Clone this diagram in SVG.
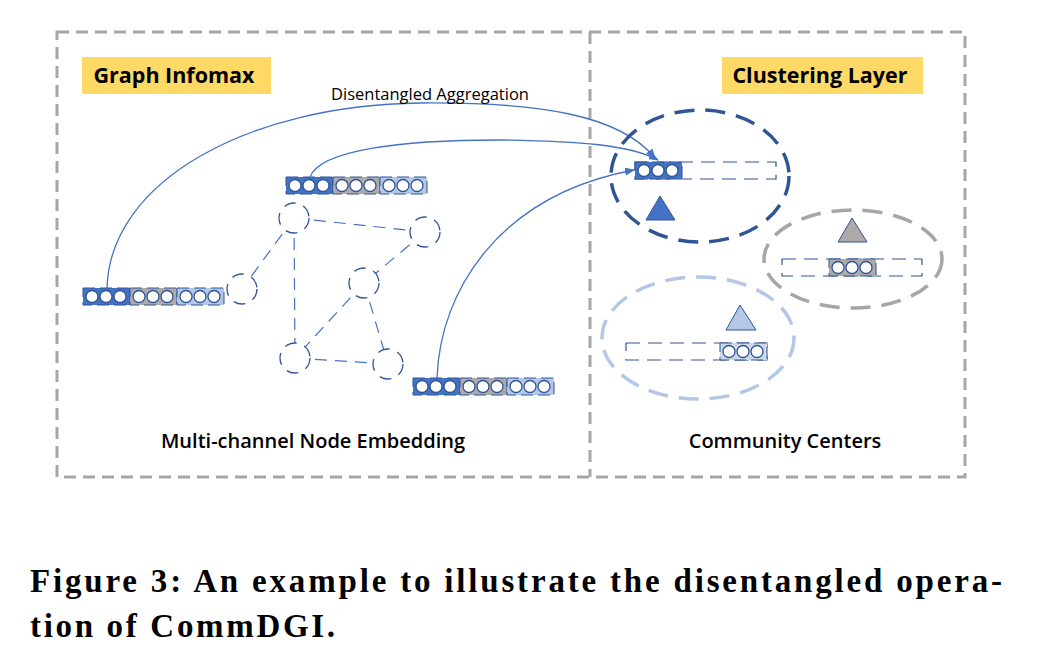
<svg xmlns="http://www.w3.org/2000/svg" width="1055" height="670" viewBox="0 0 1055 670">
<style>
.lbl{font-family:"Open Sans","Liberation Sans",sans-serif;font-weight:bold;font-size:21.5px;fill:#000}
.sub{font-family:"Open Sans","Liberation Sans",sans-serif;font-weight:600;font-size:20px;fill:#000}
.cap{font-family:"Liberation Serif",serif;font-weight:bold;font-size:33px;fill:#000}
.gn{fill:#fff;stroke:#2f5597;stroke-width:1.3;stroke-dasharray:12 8}
.ge{stroke:#4472c4;stroke-width:1.2;stroke-dasharray:12 8;fill:none}
.seg{stroke:#2f5597;stroke-width:1;stroke-dasharray:12 5}
.dot{fill:#fff;stroke:#2f5597;stroke-width:1.3}
.c{fill:none;stroke:#4472c4;stroke-width:1.3}
.emp{fill:none;stroke:#2f5597;stroke-width:1.2;stroke-dasharray:14 8}
</style>
<defs>
<marker id="ar" markerWidth="10" markerHeight="8" refX="9" refY="4" orient="auto" markerUnits="userSpaceOnUse"><path d="M0,0 L10,4 L0,8 z" fill="#4472c4"/></marker>
<g id="trip"><circle class="dot" cx="9" cy="8.5" r="6"/><circle class="dot" cx="23" cy="8.5" r="6"/><circle class="dot" cx="37" cy="8.5" r="6"/></g>
<g id="bar">
<rect width="47" height="17" fill="#4472c4" class="seg"/><rect x="47" width="47" height="17" fill="#aeaaaa" class="seg"/><rect x="94" width="47" height="17" fill="#b4c7e7" class="seg"/>
<use href="#trip"/><use href="#trip" x="47"/><use href="#trip" x="94"/>
</g>
</defs>
<rect width="1055" height="670" fill="#fff"/>
<g id="frame" fill="none" stroke="#a6a6a6" stroke-width="3" stroke-dasharray="12 7">
<rect x="57" y="32" width="908" height="445"/>
<line x1="590" y1="32" x2="590" y2="477"/>
</g>
<g id="title-left"><rect x="82" y="57" width="189" height="37" fill="#ffd966"/><text class="lbl" x="174" y="83" text-anchor="middle">Graph Infomax</text></g>
<g id="title-right"><rect x="722" y="57" width="201" height="37" fill="#ffd966"/><text class="lbl" x="820" y="83" text-anchor="middle">Clustering Layer</text></g>
<g id="graph-edges">
<line class="ge" x1="294" y1="218" x2="425" y2="232"/>
<line class="ge" x1="294" y1="218" x2="242" y2="289"/>
<line class="ge" x1="294" y1="218" x2="295" y2="358"/>
<line class="ge" x1="425" y1="232" x2="364" y2="283"/>
<line class="ge" x1="364" y1="283" x2="295" y2="358"/>
<line class="ge" x1="364" y1="283" x2="388" y2="364"/>
<line class="ge" x1="295" y1="358" x2="388" y2="364"/>
</g>
<g id="graph-nodes">
<circle class="gn" cx="294" cy="218" r="15"/>
<circle class="gn" cx="425" cy="232" r="15"/>
<circle class="gn" cx="242" cy="289" r="15"/>
<circle class="gn" cx="364" cy="283" r="15"/>
<circle class="gn" cx="295" cy="358" r="15"/>
<circle class="gn" cx="388" cy="364" r="15"/>
</g>
<g id="emb-left"><use href="#bar" x="83" y="288"/></g>
<g id="emb-top"><use href="#bar" x="286" y="177"/></g>
<g id="emb-bottom"><use href="#bar" x="413" y="378"/></g>
<g id="connectors">
<path class="c" d="M107,288 C110,180 250,105 420,103 C540,102 620,115 655,158" marker-end="url(#ar)"/>
<path class="c" d="M310,177 C320,150 400,140 500,140 C580,141 630,145 658,160" marker-end="url(#ar)"/>
<path class="c" d="M437,378 C440,290 500,195 634,170" marker-end="url(#ar)"/>
</g>
<text x="430" y="100" text-anchor="middle" style="font-family:'Open Sans','Liberation Sans',sans-serif;font-size:16.5px">Disentangled Aggregation</text>
<g id="cluster-1">
<ellipse cx="700" cy="176" rx="89" ry="66" fill="none" stroke="#2f5597" stroke-width="3.5" stroke-dasharray="20 11"/>
<rect class="emp" x="635" y="162" width="141" height="17"/>
<rect x="635" y="162" width="47" height="17" fill="#4472c4" class="seg"/><use href="#trip" x="635" y="162"/>
<polygon points="660,196 646,220 675,220" fill="#4472c4" stroke="#2f5597"/>
</g>
<g id="cluster-2">
<ellipse cx="853" cy="259" rx="89" ry="49" fill="none" stroke="#a6a6a6" stroke-width="3.5" stroke-dasharray="20 11"/>
<rect class="emp" x="782" y="259" width="140" height="17"/>
<rect x="829" y="259" width="47" height="17" fill="#aeaaaa" class="seg"/><use href="#trip" x="829" y="259"/>
<polygon points="852,218 838,242 867,242" fill="#aeaaaa" stroke="#2f5597"/>
</g>
<g id="cluster-3">
<ellipse cx="698" cy="338" rx="96" ry="61" fill="none" stroke="#b4c7e7" stroke-width="3.5" stroke-dasharray="20 11"/>
<rect class="emp" x="626" y="343" width="141" height="17"/>
<rect x="720" y="343" width="47" height="17" fill="#cdd8e6" class="seg"/><use href="#trip" x="720" y="343"/>
<polygon points="740,305 726,330 756,330" fill="#b4c7e7" stroke="#2f5597"/>
</g>
<text class="sub" x="313" y="448" text-anchor="middle">Multi-channel Node Embedding</text>
<text class="sub" x="785" y="448" text-anchor="middle">Community Centers</text>
<text class="cap" x="30" y="592" textLength="972" lengthAdjust="spacing">Figure 3: An example to illustrate the disentangled opera-</text>
<text class="cap" x="30" y="637" textLength="305" lengthAdjust="spacing">tion of CommDGI.</text>
</svg>
